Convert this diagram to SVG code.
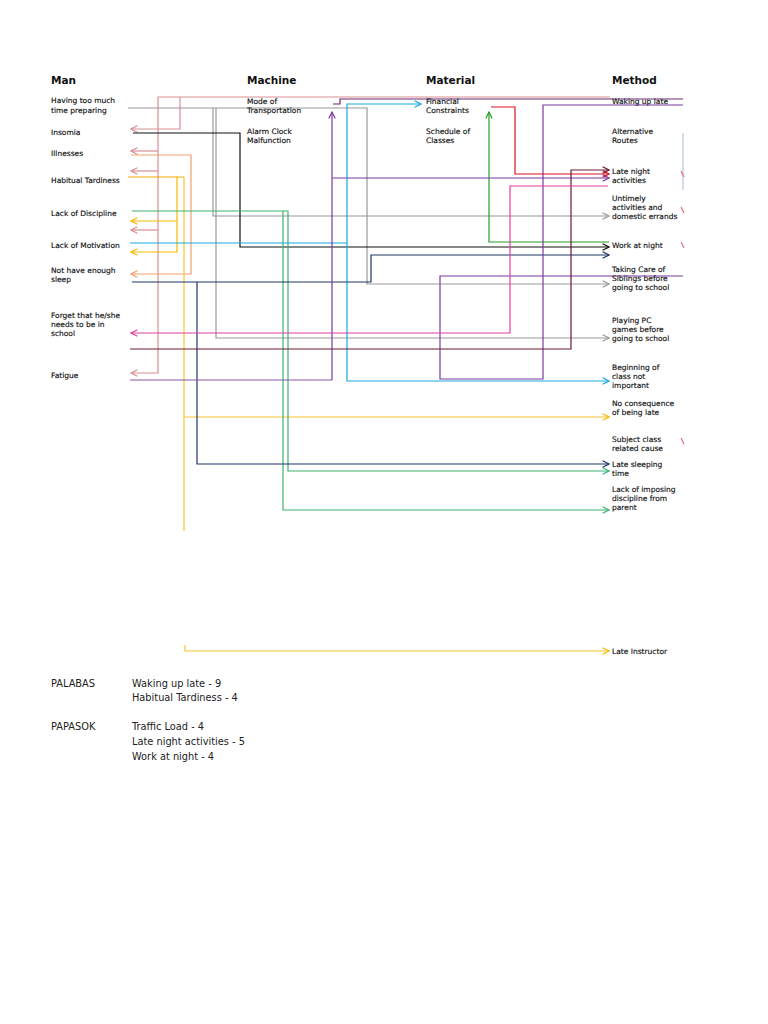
<svg xmlns="http://www.w3.org/2000/svg" width="768" height="1024" viewBox="0 0 768 1024">
<style>
.t{font-family:"DejaVu Sans",sans-serif;font-size:7.5px;fill:#111;stroke:#111;stroke-width:0.15}
.h{font-family:"DejaVu Sans",sans-serif;font-size:10.5px;font-weight:bold;fill:#111}
.b{font-family:"DejaVu Sans",sans-serif;font-size:9.8px;fill:#222}
.c{fill:none;stroke-width:1.2}
</style>
<defs>
<marker id="aPink" viewBox="0 0 10 10" refX="9" refY="5" markerWidth="8" markerHeight="8" markerUnits="userSpaceOnUse" orient="auto"><path d="M1,1 L9,5 L1,9" fill="none" stroke="#d88f95" stroke-width="1.5"/></marker>
<marker id="aSal" viewBox="0 0 10 10" refX="9" refY="5" markerWidth="8" markerHeight="8" markerUnits="userSpaceOnUse" orient="auto"><path d="M1,1 L9,5 L1,9" fill="none" stroke="#f3a070" stroke-width="1.5"/></marker>
<marker id="aYel" viewBox="0 0 10 10" refX="9" refY="5" markerWidth="8" markerHeight="8" markerUnits="userSpaceOnUse" orient="auto"><path d="M1,1 L9,5 L1,9" fill="none" stroke="#f7b900" stroke-width="1.5"/></marker>
<marker id="aGray" viewBox="0 0 10 10" refX="9" refY="5" markerWidth="8" markerHeight="8" markerUnits="userSpaceOnUse" orient="auto"><path d="M1,1 L9,5 L1,9" fill="none" stroke="#9a9a9a" stroke-width="1.5"/></marker>
<marker id="aBlk" viewBox="0 0 10 10" refX="9" refY="5" markerWidth="8" markerHeight="8" markerUnits="userSpaceOnUse" orient="auto"><path d="M1,1 L9,5 L1,9" fill="none" stroke="#111" stroke-width="1.5"/></marker>
<marker id="aGrn" viewBox="0 0 10 10" refX="9" refY="5" markerWidth="8" markerHeight="8" markerUnits="userSpaceOnUse" orient="auto"><path d="M1,1 L9,5 L1,9" fill="none" stroke="#3cb371" stroke-width="1.5"/></marker>
<marker id="aGrn2" viewBox="0 0 10 10" refX="9" refY="5" markerWidth="8" markerHeight="8" markerUnits="userSpaceOnUse" orient="auto"><path d="M1,1 L9,5 L1,9" fill="none" stroke="#22a022" stroke-width="1.5"/></marker>
<marker id="aCyan" viewBox="0 0 10 10" refX="9" refY="5" markerWidth="8" markerHeight="8" markerUnits="userSpaceOnUse" orient="auto"><path d="M1,1 L9,5 L1,9" fill="none" stroke="#1aa8e0" stroke-width="1.5"/></marker>
<marker id="aNavy" viewBox="0 0 10 10" refX="9" refY="5" markerWidth="8" markerHeight="8" markerUnits="userSpaceOnUse" orient="auto"><path d="M1,1 L9,5 L1,9" fill="none" stroke="#1f3566" stroke-width="1.5"/></marker>
<marker id="aPur" viewBox="0 0 10 10" refX="9" refY="5" markerWidth="8" markerHeight="8" markerUnits="userSpaceOnUse" orient="auto"><path d="M1,1 L9,5 L1,9" fill="none" stroke="#7a3a9e" stroke-width="1.5"/></marker>
<marker id="aRed" viewBox="0 0 10 10" refX="9" refY="5" markerWidth="8" markerHeight="8" markerUnits="userSpaceOnUse" orient="auto"><path d="M1,1 L9,5 L1,9" fill="none" stroke="#e01020" stroke-width="1.5"/></marker>
<marker id="aMar" viewBox="0 0 10 10" refX="9" refY="5" markerWidth="8" markerHeight="8" markerUnits="userSpaceOnUse" orient="auto"><path d="M1,1 L9,5 L1,9" fill="none" stroke="#6a1c30" stroke-width="1.5"/></marker>
<marker id="aMag" viewBox="0 0 10 10" refX="9" refY="5" markerWidth="8" markerHeight="8" markerUnits="userSpaceOnUse" orient="auto"><path d="M1,1 L9,5 L1,9" fill="none" stroke="#e040a0" stroke-width="1.5"/></marker>
</defs>
<rect width="768" height="1024" fill="#fff"/>

<g id="connectors">
<path class="c" stroke="#d88f95" stroke-width="2" d="M610,97 H158 V373 H131" marker-end="url(#aPink)"/>
<path class="c" stroke="#d88f95" d="M180,97 V129 H131" marker-end="url(#aPink)"/>
<path class="c" stroke="#d88f95" d="M158,151 H131" marker-end="url(#aPink)"/>
<path class="c" stroke="#d88f95" d="M158,171 H131" marker-end="url(#aPink)"/>
<path class="c" stroke="#d88f95" d="M158,230 H131" marker-end="url(#aPink)"/>
<path class="c" stroke="#f3a070" d="M131,155 H191 V274 H131" marker-end="url(#aSal)"/>
<path class="c" stroke="#9a9a9a" d="M128,108 H367 V284 H609" marker-end="url(#aGray)"/>
<path class="c" stroke="#9a9a9a" d="M213,108 V216 H609" marker-end="url(#aGray)"/>
<path class="c" stroke="#9a9a9a" d="M216,108 V338 H609" marker-end="url(#aGray)"/>
<path class="c" stroke="#111" d="M133,133 H240 V247 H609" marker-end="url(#aBlk)"/>
<path class="c" stroke="#f5a800" stroke-width="2" d="M128,177 H184"/>
<path class="c" stroke="#f7c530" d="M184,177 V531"/>
<path class="c" stroke="#f7b900" d="M177,177 V252 H131" marker-end="url(#aYel)"/>
<path class="c" stroke="#f7b900" d="M177,221 H131" marker-end="url(#aYel)"/>
<path class="c" stroke="#f7c530" d="M184,417 H609" marker-end="url(#aYel)"/>
<path class="c" stroke="#f7c530" d="M185,645 V651 H609" marker-end="url(#aYel)"/>
<path class="c" stroke="#3cb371" d="M132,211 H288 V471 H609" marker-end="url(#aGrn)"/>
<path class="c" stroke="#3cb371" d="M283,211 V510 H609" marker-end="url(#aGrn)"/>
<path class="c" stroke="#22a022" d="M609,242 H489 V112" marker-end="url(#aGrn2)"/>
<path class="c" stroke="#1aa8e0" stroke-width="2" d="M130,243 H347"/>
<path class="c" stroke="#1aa8e0" d="M347,243 V104 H421" marker-end="url(#aCyan)"/>
<path class="c" stroke="#1aa8e0" d="M347,243 V381 H609" marker-end="url(#aCyan)"/>
<path class="c" stroke="#1f3566" d="M132,282 H371 V255 H609" marker-end="url(#aNavy)"/>
<path class="c" stroke="#1f3566" d="M197,282 V464 H609" marker-end="url(#aNavy)"/>
<path class="c" stroke="#8a55a8" d="M130,380 H332"/>
<path class="c" stroke="#7a3a9e" stroke-width="1.6" d="M332,380 V112" marker-end="url(#aPur)"/>
<path class="c" stroke="#7a3a9e" d="M332,178 H609" marker-end="url(#aPur)"/>
<path class="c" stroke="#7a3a9e" d="M683,105 H543 V379 H440 V276 H683"/>
<path class="c" stroke="#6a2a70" d="M333,104 H340 V99 H683"/>
<path class="c" stroke="#e01020" d="M491,107 H515 V174 H609" marker-end="url(#aRed)"/>
<path class="c" stroke="#6a1c30" d="M130,349 H571 V170 H609" marker-end="url(#aMar)"/>
<path class="c" stroke="#e040a0" d="M608,186 H510 V333 H131" marker-end="url(#aMag)"/>
<path class="c" stroke="#b8c6dc" d="M683,133 V190"/>
<path class="c" stroke="#e07080" stroke-width="0.8" d="M681,171 L684,177 M681,207 L684,213 M681,242 L684,248 M681,438 L684,444"/>
</g>

<g id="headers">
<text class="h" x="51" y="84">Man</text>
<text class="h" x="247" y="84">Machine</text>
<text class="h" x="426" y="84">Material</text>
<text class="h" x="612" y="84">Method</text>
</g>

<g id="man-having"><text class="t" x="51" y="103">Having too much</text><text class="t" x="51" y="113">time preparing</text></g>
<g id="man-insomia"><text class="t" x="51" y="135">Insomia</text></g>
<g id="man-illnesses"><text class="t" x="51" y="156">Illnesses</text></g>
<g id="man-habitual"><text class="t" x="51" y="183">Habitual Tardiness</text></g>
<g id="man-discipline"><text class="t" x="51" y="216">Lack of Discipline</text></g>
<g id="man-motivation"><text class="t" x="51" y="248">Lack of Motivation</text></g>
<g id="man-sleep"><text class="t" x="51" y="273">Not have enough</text><text class="t" x="51" y="282">sleep</text></g>
<g id="man-forget"><text class="t" x="51" y="318">Forget that he/she</text><text class="t" x="51" y="327">needs to be in</text><text class="t" x="51" y="336">school</text></g>
<g id="man-fatigue"><text class="t" x="51" y="378">Fatigue</text></g>

<g id="machine-mode"><text class="t" x="247" y="104">Mode of</text><text class="t" x="247" y="113">Transportation</text></g>
<g id="machine-alarm"><text class="t" x="247" y="134">Alarm Clock</text><text class="t" x="247" y="143">Malfunction</text></g>

<g id="material-financial"><text class="t" x="426" y="104">Financial</text><text class="t" x="426" y="113">Constraints</text></g>
<g id="material-schedule"><text class="t" x="426" y="134">Schedule of</text><text class="t" x="426" y="143">Classes</text></g>

<g id="method-waking"><text class="t" x="612" y="104">Waking up late</text></g>
<g id="method-routes"><text class="t" x="612" y="134">Alternative</text><text class="t" x="612" y="143">Routes</text></g>
<g id="method-latenight"><text class="t" x="612" y="174">Late night</text><text class="t" x="612" y="183">activities</text></g>
<g id="method-untimely"><text class="t" x="612" y="201">Untimely</text><text class="t" x="612" y="210">activities and</text><text class="t" x="612" y="219">domestic errands</text></g>
<g id="method-work"><text class="t" x="612" y="248">Work at night</text></g>
<g id="method-siblings"><text class="t" x="612" y="272">Taking Care of</text><text class="t" x="612" y="281">Siblings before</text><text class="t" x="612" y="290">going to school</text></g>
<g id="method-pc"><text class="t" x="612" y="323"> Playing PC</text><text class="t" x="612" y="332">games before</text><text class="t" x="612" y="341">going to school</text></g>
<g id="method-beginning"><text class="t" x="612" y="370">Beginning of</text><text class="t" x="612" y="379">class not</text><text class="t" x="612" y="388">important</text></g>
<g id="method-noconseq"><text class="t" x="612" y="406">No consequence</text><text class="t" x="612" y="415">of being late</text></g>
<g id="method-subject"><text class="t" x="612" y="442">Subject class</text><text class="t" x="612" y="451">related cause</text></g>
<g id="method-latesleep"><text class="t" x="612" y="467">Late sleeping</text><text class="t" x="612" y="476">time</text></g>
<g id="method-parent"><text class="t" x="612" y="492">Lack of imposing</text><text class="t" x="612" y="501">discipline from</text><text class="t" x="612" y="510">parent</text></g>
<g id="method-instructor"><text class="t" x="612" y="654">Late Instructor</text></g>

<g id="summary">
<text class="b" x="51" y="687">PALABAS</text>
<text class="b" x="132" y="687">Waking up late - 9</text>
<text class="b" x="132" y="701">Habitual Tardiness - 4</text>
<text class="b" x="51" y="730">PAPASOK</text>
<text class="b" x="132" y="730">Traffic Load - 4</text>
<text class="b" x="132" y="745">Late night activities - 5</text>
<text class="b" x="132" y="760">Work at night - 4</text>
</g>
</svg>
